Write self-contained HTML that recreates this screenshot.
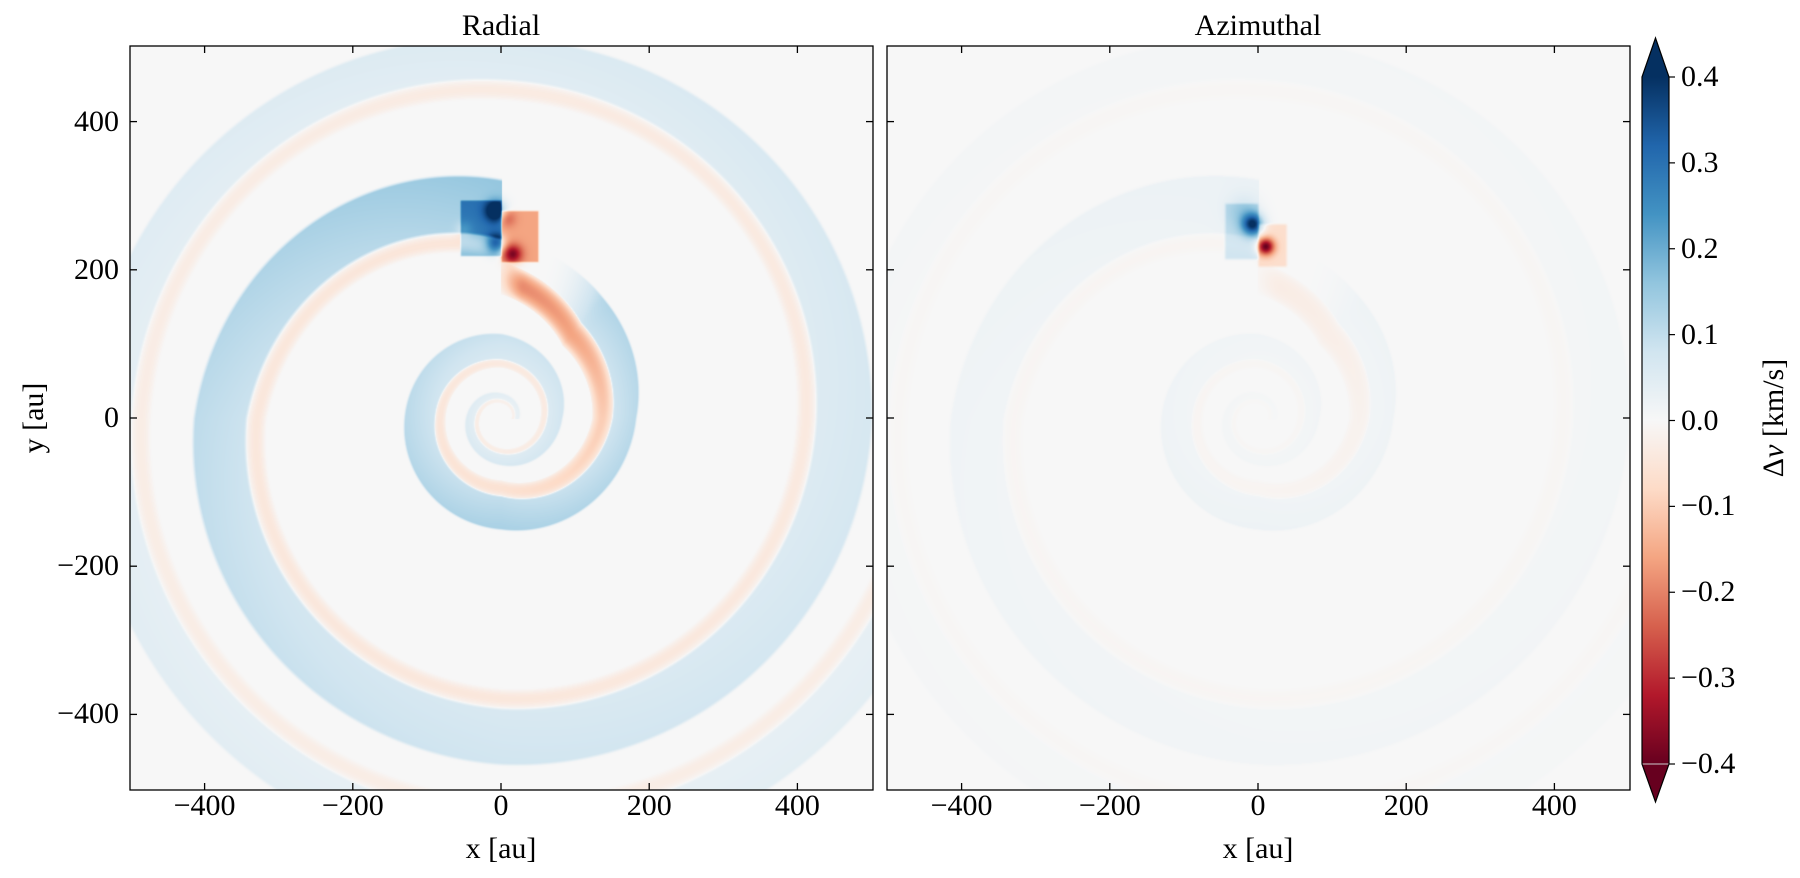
<!DOCTYPE html>
<html><head><meta charset="utf-8">
<style>
body{margin:0;background:#fff;width:1800px;height:878px;overflow:hidden;position:relative;font-family:"Liberation Serif","DejaVu Serif",serif;color:#000}
canvas{position:absolute}
.t{position:absolute;font-size:30px;line-height:1;white-space:nowrap}
</style></head><body>
<canvas id="c1" width="743" height="744" style="left:130px;top:46px"></canvas>
<canvas id="c2" width="743" height="744" style="left:887px;top:46px"></canvas>
<svg width="1800" height="878" style="position:absolute;left:0;top:0">
<defs><linearGradient id="cb" x1="0" y1="1" x2="0" y2="0">
<stop offset="0" stop-color="#67001f"/><stop offset="0.1" stop-color="#b2182b"/><stop offset="0.2" stop-color="#d6604d"/><stop offset="0.3" stop-color="#f4a582"/><stop offset="0.4" stop-color="#fddbc7"/><stop offset="0.5" stop-color="#f7f7f7"/><stop offset="0.6" stop-color="#d1e5f0"/><stop offset="0.7" stop-color="#92c5de"/><stop offset="0.8" stop-color="#4393c3"/><stop offset="0.9" stop-color="#2166ac"/><stop offset="1" stop-color="#053061"/></linearGradient></defs>
<g id="ax" fill="none" stroke="#000" stroke-width="1.3"></g>
<rect x="1642" y="77" width="27" height="687" fill="url(#cb)"/>
<polygon points="1642,77 1655.5,38 1669,77" fill="#053061"/>
<polygon points="1642,764 1655.5,802 1669,764" fill="#67001f"/>
<line x1="1642" y1="764" x2="1669" y2="764" stroke="#ccc" stroke-width="1"/>
<polygon points="1642,77 1655.5,38 1669,77 1669,764 1655.5,802 1642,764" fill="none" stroke="#000" stroke-width="1.2"/>
<g id="cbt" stroke="#000" stroke-width="1.2"></g>
</svg>
<div class="t" style="left:501px;top:11px;transform:translateX(-50%)">Radial</div>
<div class="t" style="left:1258px;top:11px;transform:translateX(-50%)">Azimuthal</div>
<div class="t" style="left:501px;top:834px;transform:translateX(-50%)">x [au]</div>
<div class="t" style="left:1258px;top:834px;transform:translateX(-50%)">x [au]</div>
<div class="t" style="left:34px;top:418px;transform:translate(-50%,-50%) rotate(-90deg)">y [au]</div>
<div class="t" style="left:1774px;top:418px;transform:translate(-50%,-50%) rotate(-90deg)">Δ<i>v</i> [km/s]</div>
<div id="lbl"></div>
<script>
var svgAx=document.getElementById('ax'),lbl=document.getElementById('lbl'),cbt=document.getElementById('cbt');
function L(x1,y1,x2,y2,p){var l=document.createElementNS('http://www.w3.org/2000/svg','line');l.setAttribute('x1',x1);l.setAttribute('y1',y1);l.setAttribute('x2',x2);l.setAttribute('y2',y2);p.appendChild(l);}
function T(txt,x,y,al){var d=document.createElement('div');d.className='t';d.textContent=txt;d.style.top=(y-15)+'px';if(al=='c'){d.style.left=x+'px';d.style.transform='translateX(-50%)';}else if(al=='r'){d.style.right=(1800-x)+'px';}else d.style.left=x+'px';lbl.appendChild(d);}
function lab(v){return v<0?'\u2212'+Math.abs(v):''+v;}
[130,887].forEach(function(X0,k){
  var r=document.createElementNS('http://www.w3.org/2000/svg','rect');r.setAttribute('x',X0);r.setAttribute('y',46);r.setAttribute('width',743);r.setAttribute('height',744);svgAx.appendChild(r);
  for(var v=-400;v<=400;v+=200){var px=X0+371+v*0.741;L(px,790,px,783,svgAx);L(px,46,px,53,svgAx);T(lab(v),px,806,'c');
    var py=418-v*0.741;L(X0,py,X0+7,py,svgAx);L(X0+743,py,X0+736,py,svgAx);if(k==0)T(lab(v),119,py,'r');}
});
for(var i=0;i<9;i++){var v=(0.4-i*0.1).toFixed(1);var py=77+i*85.875;L(1669,py,1675,py,cbt);T(v=='-0.0'?'0.0':lab(v).replace('-','\u2212'),1681,py,'l');}
var C=[[103,0,31],[178,24,43],[214,96,77],[244,165,130],[253,219,199],[247,247,247],[209,229,240],[146,197,222],[67,147,195],[33,102,172],[5,48,97]];
function cm(v){var f=(v+0.4)/0.8*10;if(f<0)f=0;if(f>10)f=10;var i=Math.min(9,Math.floor(f)),u=f-i,a=C[i],b=C[i+1];return[a[0]+(b[0]-a[0])*u,a[1]+(b[1]-a[1])*u,a[2]+(b[2]-a[2])*u];}
function interp(tt,arr,t){if(t<=tt[0])return arr[0];for(var i=1;i<tt.length;i++)if(t<=tt[i]){var u=(t-tt[i-1])/(tt[i]-tt[i-1]);return arr[i-1]+(arr[i]-arr[i-1])*u;}return arr[arr.length-1];}
function sm(a,b,x){var t=Math.max(0,Math.min(1,(x-a)/(b-a)));return t*t*(3-2*t);}
var OT=[0,90,180,270,360,450,540,630],OR=[242,344,392,425,457,500,540,580],OW=[80,71,75,75,55,60,60,60],OV=[0.15,0.1,0.075,0.065,0.055,0.045,0.04,0.04],OVR=[-0.05,-0.045,-0.045,-0.04,-0.035,-0.03,-0.03,-0.03];
var IT=[0,40,90,180,270,360,450,540,630,720,810],IR=[212,168,150,105,90,80,62,48,36,26,18],IW=[30,45,32,45,41,34,20,15,12,8,6],IV=[0.0,0.11,0.1,0.12,0.1,0.08,0.07,0.06,0.05,0.04,0.03],IVR=[-0.2,-0.16,-0.1,-0.06,-0.05,-0.04,-0.035,-0.03,-0.03,-0.02,-0.02],IWR=[45,40,28,22,15,12,10,8,7,6,5];
function box(x,y,x0,x1,y0,y1,e){return sm(x0-e,x0+e,x)*(1-sm(x1-e,x1+e,x))*sm(y0-e,y0+e,y)*(1-sm(y1-e,y1+e,y));}
function g(x,y,cx,cy,s){return Math.exp(-((x-cx)*(x-cx)+(y-cy)*(y-cy))/(2*s*s));}
function field(x,y,amp,az){
  var r=Math.sqrt(x*x+y*y),th=Math.atan2(y,x)*180/Math.PI,v=0;
  var t0=((th-90)%360+360)%360;
  for(var n=0;n<3;n++){var t=t0+360*n;if(t>630)break;var R=interp(OT,OR,t),w=interp(OT,OW,t),dr=r-R;
    if(dr>-3&&dr<w+3){v+=interp(OT,OV,t)*sm(-3,3,dr)*(1-sm(w-3,w+3,dr))*(0.85+0.2*dr/w);}
    if(dr<3&&dr>-30){var p=(dr+28)/28;v+=interp(OT,OVR,t)*Math.sin(Math.PI*Math.max(0,Math.min(1,p)));}}
  var s0=((90-th)%360+360)%360;
  for(var n=0;n<3;n++){var s=s0+360*n;if(s>810)break;var R=interp(IT,IR,s),w=interp(IT,IW,s),dr=r-R,wr=interp(IT,IWR,s);
    var bv=interp(IT,IV,s)*sm(15,45,s);
    if(dr>-2&&dr<w+2){v+=bv*sm(-2,2,dr)*(1-sm(w-2,w+2,dr))*(0.8+0.3*dr/w);}
    if(dr<2&&dr>-wr){var p=(dr+wr)/wr;v+=interp(IT,IVR,s)*Math.pow(Math.sin(Math.PI*Math.max(0,Math.min(1,p))),0.6)*sm(-5,10,s);}}
  v*=amp;
  if(!az){
    v+=0.16*box(x,y,-55,0,219,294,2)+0.2*g(x,y,-8,280,10)+0.2*g(x,y,-8,236,9)-0.05*g(x,y,-50,255,8);
    v+=-0.16*box(x,y,0,50,211,280,2)-0.22*g(x,y,15,222,9)-0.08*g(x,y,8,270,8);
  }else{
    v+=0.08*box(x,y,-45,0,215,290,3)+0.3*g(x,y,-8,262,10)+0.05*g(x,y,-20,280,15);
    v+=-0.07*box(x,y,0,38,205,262,3)-0.33*g(x,y,10,232,8);
  }
  return v;
}
function draw(id,amp,az){var c=document.getElementById(id),ctx=c.getContext('2d'),im=ctx.createImageData(743,744),d=im.data;
  for(var py=0;py<744;py++)for(var px=0;px<743;px++){var x=(px-371)/0.741,y=(372-py)/0.741;var col=cm(field(x,y,amp,az));var k=(py*743+px)*4;d[k]=col[0];d[k+1]=col[1];d[k+2]=col[2];d[k+3]=255;}
  ctx.putImageData(im,0,0);}
draw('c1',1,false);draw('c2',0.16,true);
</script>
</body></html>
